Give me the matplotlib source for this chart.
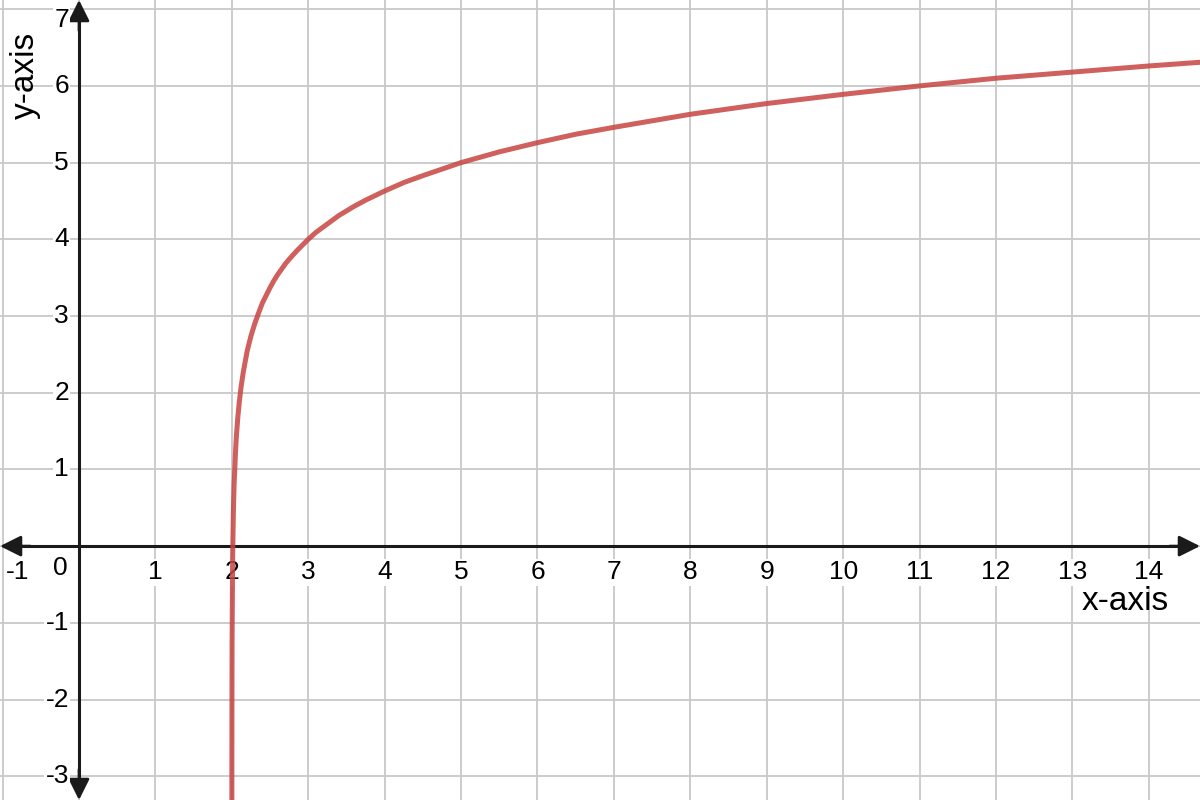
import numpy as np
import matplotlib.pyplot as plt

plt.rcParams['font.family'] = ['Liberation Sans', 'DejaVu Sans']

# points
curve_x = [2.0002, 2.001, 2.003, 2.01, 2.02, 2.03, 2.05, 2.06, 2.08, 2.1, 2.12,
           2.15, 2.2, 2.25, 2.3, 2.35, 2.4, 2.45, 2.5, 2.55, 2.6, 2.65, 2.7,
           2.75, 2.85, 2.9, 3.0, 3.1, 3.25, 3.4, 3.5, 3.6, 3.75, 4.0, 4.25,
           4.5, 5.0, 5.5, 6.0, 6.5, 7.0, 8.0, 9.0, 10.0, 11.0, 12.0, 13.0,
           14.0, 14.7]
curve_y = [-3.75, -2.29, -1.29, -0.19, 0.44, 0.81, 1.27, 1.44, 1.70, 1.90, 2.07,
           2.27, 2.54, 2.74, 2.90, 3.04, 3.17, 3.27, 3.37, 3.46, 3.54, 3.61, 3.68,
           3.74, 3.85, 3.90, 4.0, 4.09, 4.20, 4.31, 4.37, 4.43, 4.51, 4.63, 4.74,
           4.83, 5.0, 5.14, 5.26, 5.37, 5.46, 5.63, 5.77, 5.89, 6.0, 6.10, 6.18,
           6.26, 6.31]

xticks = list(range(-1, 15))
yticks = list(range(-3, 8))

xmin, xmax = -1.034, 14.67
ymin, ymax = -3.31, 7.12

fig = plt.figure(figsize=(12, 8), dpi=100)
ax = fig.add_axes([0, 0, 1, 1])
ax.set_xlim(xmin, xmax)
ax.set_ylim(ymin, ymax)
ax.axis('off')

# grid
for gx in xticks:
    ax.axvline(gx, color='#c8c8c8', lw=1.3, zorder=0)
for gy in yticks:
    ax.axhline(gy, color='#c8c8c8', lw=1.3, zorder=0)

# axes with arrows
ax.plot([xmin + 0.1, xmax - 0.1], [0, 0], color='#1a1a1a', lw=2.2, zorder=2)
ax.plot([0, 0], [ymin + 0.1, ymax - 0.1], color='#1a1a1a', lw=2.2, zorder=2)
aprops = dict(arrowstyle='-|>', color='#1a1a1a', lw=2, mutation_scale=32,
              shrinkA=0, shrinkB=0)
ax.annotate('', xy=(xmax, 0), xytext=(xmax - 0.4, 0), arrowprops=aprops, zorder=3)
ax.annotate('', xy=(xmin, 0), xytext=(xmin + 0.4, 0), arrowprops=aprops, zorder=3)
ax.annotate('', xy=(0, ymax), xytext=(0, ymax - 0.4), arrowprops=aprops, zorder=3)
ax.annotate('', xy=(0, ymin), xytext=(0, ymin + 0.4), arrowprops=aprops, zorder=3)

# curve (on top of the labels)
ax.plot(curve_x, curve_y, color='#c74440', alpha=0.85, lw=3.6, zorder=6,
        solid_capstyle='butt', solid_joinstyle='round')

box = dict(facecolor='white', edgecolor='none', pad=1)
fs = 19

# x tick labels
for t in xticks:
    if t == 0:
        continue
    px = t
    if t == -1:
        px = -0.81
    ax.text(px, -0.34, str(t), ha='center', va='center', fontsize=fs,
            bbox=box, zorder=5)
ax.text(-0.25, -0.28, '0', ha='center', va='center', fontsize=fs, bbox=box, zorder=5)

# y tick labels
for t in yticks:
    if t == 0:
        continue
    py = t
    if t == 7:
        py = 6.86
    ax.text(-0.13, py, str(t), ha='right', va='center', fontsize=fs,
            bbox=box, zorder=5)

ax.text(14.26, -0.72, 'x-axis', ha='right', va='center', fontsize=24, zorder=5)
ax.text(-0.70, 6.14, 'y-axis', ha='center', va='center', fontsize=24,
        rotation=90, zorder=5)

fig.savefig('out.png', dpi=100)
